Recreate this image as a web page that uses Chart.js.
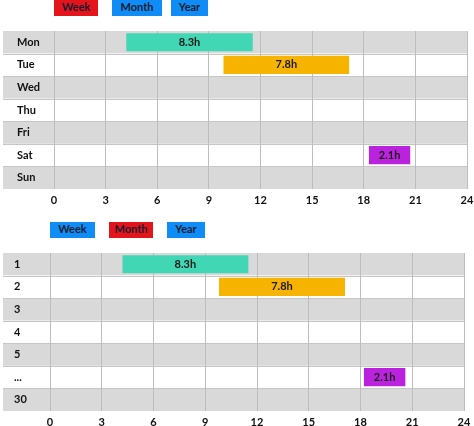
<!DOCTYPE html>
<html>
<head>
<meta charset="utf-8">
<script src="https://cdn.jsdelivr.net/npm/chart.js@4.4.1/dist/chart.umd.min.js"></script>
<style>
  body { margin: 0; width: 474px; height: 426px; overflow: hidden; background: #fff; position: relative; }
  .btn { position: absolute; height: 16px; line-height: 16px; font: bold 11px Lato, sans-serif; color: #1c1c30; text-align: center; }
  .red { background: #e3141c; }
  .blue { background: #0f8cf5; }
  canvas { position: absolute; left: 0; }
</style>
</head>
<body>
<div class="btn red"  style="left:54px;top:0;width:44px">Week</div>
<div class="btn blue" style="left:112px;top:0;width:50px">Month</div>
<div class="btn blue" style="left:171px;top:0;width:37px">Year</div>
<canvas id="weekChart" width="474" height="206" style="top:0"></canvas>

<div class="btn blue" style="left:50px;top:222px;width:45px">Week</div>
<div class="btn red"  style="left:109px;top:222px;width:44px">Month</div>
<div class="btn blue" style="left:167px;top:222px;width:38px">Year</div>
<canvas id="monthChart" width="474" height="216" style="top:210px"></canvas>

<script>
// Data
const hourTicks = [0, 3, 6, 9, 12, 15, 18, 21, 24];

const weekDays = ['Mon', 'Tue', 'Wed', 'Thu', 'Fri', 'Sat', 'Sun'];
const weekStart = [4.2, 9.85, null, null, null, 18.3, null];
const weekEnd = [11.55, 17.15, null, null, null, 20.7, null];
const weekLabels = ['8.3h', '7.8h', '', '', '', '2.1h', ''];

const monthDays = ['1', '2', '3', '4', '5', '...', '30'];
const monthStart = [4.2, 9.8, null, null, null, 18.2, null];
const monthEnd = [11.5, 17.1, null, null, null, 20.6, null];
const monthLabels = ['8.3h', '7.8h', '', '', '', '2.1h', ''];

const barColors = ['#41d6b4', '#f6b400', '#f6b400', '#f6b400', '#f6b400', '#bb22dd', '#bb22dd'];

const FONT = 'Lato, sans-serif';

// Alternating row bands that reach into the label column
const rowBands = {
  id: 'rowBands',
  beforeDraw(chart, args, opts) {
    const { ctx, chartArea } = chart;
    const y = chart.scales.y;
    const n = y.ticks.length;
    const h = (chartArea.bottom - chartArea.top) / n;
    ctx.save();
    for (let i = 0; i < n; i++) {
      ctx.fillStyle = i % 2 === 0 ? '#d9d9d9' : '#ffffff';
      ctx.fillRect(opts.left, chartArea.top + i * h, chartArea.right - opts.left, h);
    }
    ctx.strokeStyle = '#c6c6c6';
    ctx.lineWidth = 1;
    for (let i = 1; i < n; i++) {
      const py = Math.round(chartArea.top + i * h) + 0.5;
      ctx.beginPath();
      ctx.moveTo(opts.left, py);
      ctx.lineTo(chartArea.right, py);
      ctx.stroke();
    }
    ctx.restore();
  }
};

// Duration text in the middle of each bar
const barText = {
  id: 'barText',
  afterDatasetsDraw(chart, args, opts) {
    const { ctx } = chart;
    const meta = chart.getDatasetMeta(0);
    ctx.save();
    ctx.font = 'bold 11px ' + FONT;
    ctx.fillStyle = '#1a1a1a';
    ctx.textAlign = 'center';
    ctx.textBaseline = 'middle';
    meta.data.forEach((bar, i) => {
      if (!opts.labels[i]) return;
      const p = bar.getCenterPoint();
      ctx.fillText(opts.labels[i], p.x, p.y);
    });
    ctx.restore();
  }
};

function makeChart(id, cats, starts, ends, labels, pad) {
  const data = cats.map((c, i) => starts[i] == null ? null : [starts[i], ends[i]]);
  return new Chart(document.getElementById(id), {
    type: 'bar',
    data: {
      labels: cats,
      datasets: [{
        data: data,
        backgroundColor: barColors,
        borderWidth: 0,
        borderSkipped: false,
        barPercentage: 0.8,
        categoryPercentage: 1
      }]
    },
    plugins: [rowBands, barText],
    options: {
      indexAxis: 'y',
      responsive: false,
      animation: false,
      layout: { padding: { top: pad.top, left: pad.left, right: pad.right, bottom: 0 } },
      scales: {
        x: {
          type: 'linear',
          min: 0,
          max: 24,
          afterBuildTicks: function(scale) {
            scale.ticks = hourTicks.map(v => ({ value: v }));
          },
          afterFit: function(scale) {
            scale.height = pad.xh;
            // let the "24" label hang past the plot edge like the original
            scale.paddingLeft = 0;
            scale.paddingRight = 0;
          },
          border: { display: false },
          grid: { color: '#bdbdbd', lineWidth: 1, drawTicks: false },
          ticks: { padding: pad.tp, color: '#111', font: { family: FONT, size: 11, weight: 'bold' } }
        },
        y: {
          afterFit: function(scale) { scale.width = pad.yw; },
          border: { display: false },
          grid: { display: false },
          ticks: { crossAlign: 'far', padding: 0, color: '#111', font: { family: FONT, size: 11, weight: 'bold' } }
        }
      },
      plugins: {
        legend: { display: false },
        tooltip: { enabled: false },
        rowBands: { left: 3 },
        barText: { labels: labels }
      }
    }
  });
}

makeChart('weekChart', weekDays, weekStart, weekEnd, weekLabels,
  { top: 31, left: 17, right: 7, yw: 37, xh: 17, tp: 5 });
makeChart('monthChart', monthDays, monthStart, monthEnd, monthLabels,
  { top: 43, left: 14, right: 10, yw: 36, xh: 15, tp: 5 });
</script>
</body>
</html>
